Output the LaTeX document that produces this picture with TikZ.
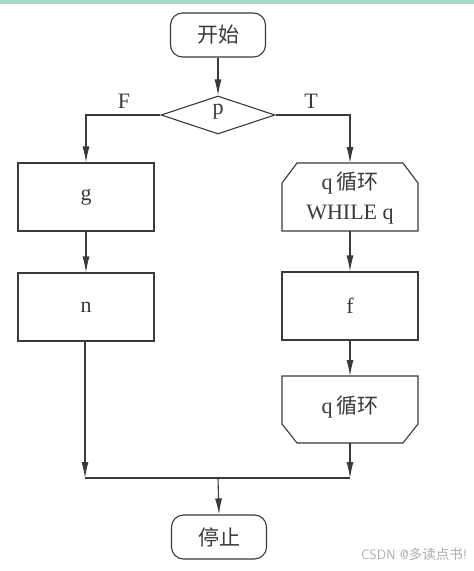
\documentclass[tikz,border=0pt]{standalone}
\usepackage{fontspec}
\setmainfont{Liberation Serif}
\newfontfamily\cjk{Noto Sans CJK SC}
\usetikzlibrary{arrows.meta,shapes.geometric}
\definecolor{ln}{HTML}{3A3A3A}
\definecolor{bar}{HTML}{A8D8C8}
\tikzset{
  every node/.style={font=\fontsize{22}{26}\selectfont, text=ln},
  box/.style={draw=ln, line width=1.1pt, minimum width=136pt, minimum height=68pt},
  term/.style={draw=ln, line width=1.1pt, rounded corners=12pt, minimum width=95pt, minimum height=44pt},
  conn/.style={draw=ln, line width=1.1pt},
  arr/.style={conn, -{Latex[length=16pt,width=7pt]}}
}
\begin{document}
\begin{tikzpicture}[x=1pt,y=-1pt]
\useasboundingbox (0,0) rectangle (474,571);
\fill[white] (0,0) rectangle (474,571);
\fill[bar] (0,0) rectangle (474,4);
% nodes
\node[term] (start) at (218,35) {\cjk\fontsize{21}{24}\selectfont 开始};
\node[diamond, draw=ln, line width=1.1pt, minimum width=114pt, minimum height=38pt, aspect=3, inner sep=0pt] (p) at (218,115) {};
\node at (218,112) {p};
\node[box] (g) at (86,197) {g};
\node[box] (n) at (86,307) {n};
\node[box] (f) at (350,306) {f};
\node[term] (stop) at (219,537) {\cjk\fontsize{21}{24}\selectfont 停止};
% top loop hexagon
\coordinate (lt) at (350,163);
\draw[conn] (282,231) -- (282,183) -- (297,163) -- (403,163) -- (418,183) -- (418,231) -- cycle;
\node[align=center, font=\fontsize{22}{30}\selectfont] (loop1) at (350,198) {q\,{\cjk\fontsize{21}{24}\selectfont 循环}\\WHILE q};
\coordinate (l1b) at (350,231);
% bottom loop
\draw[conn] (282,376) -- (418,376) -- (418,424) -- (403,443) -- (297,443) -- (282,424) -- cycle;
\node (loop2) at (350,407) {q\,{\cjk\fontsize{21}{24}\selectfont 循环}};
\coordinate (l2t) at (350,376);
\coordinate (l2b) at (350,443);
% labels
\node (F) at (124,101) {F};
\node (T) at (311,101) {T};
% connectors
\coordinate (mL) at (85,478);
\coordinate (mR) at (350,478);
\coordinate (mC) at (218,478);
\draw[arr] (start) -- (p.north);
\draw[arr] (p.west) -| (g.north);
\draw[arr] (p.east) -| (lt);
\draw[arr] (g) -- (n);
\draw[arr] (l1b) -- (f.north);
\draw[arr] (f.south) -- (l2t);
\draw[arr] (n.south -| mL) -- (mL);
\draw[arr] (l2b) -- (mR);
\draw[conn] (mL) -- (mR);
\draw[arr] (mC) -- (stop.north);
% watermark
\node[font=\fontsize{13.5}{16}\selectfont, text=gray!65] (wm) at (414,554) {\sffamily CSDN @{\cjk 多读点书}!};
\end{tikzpicture}
\end{document}
